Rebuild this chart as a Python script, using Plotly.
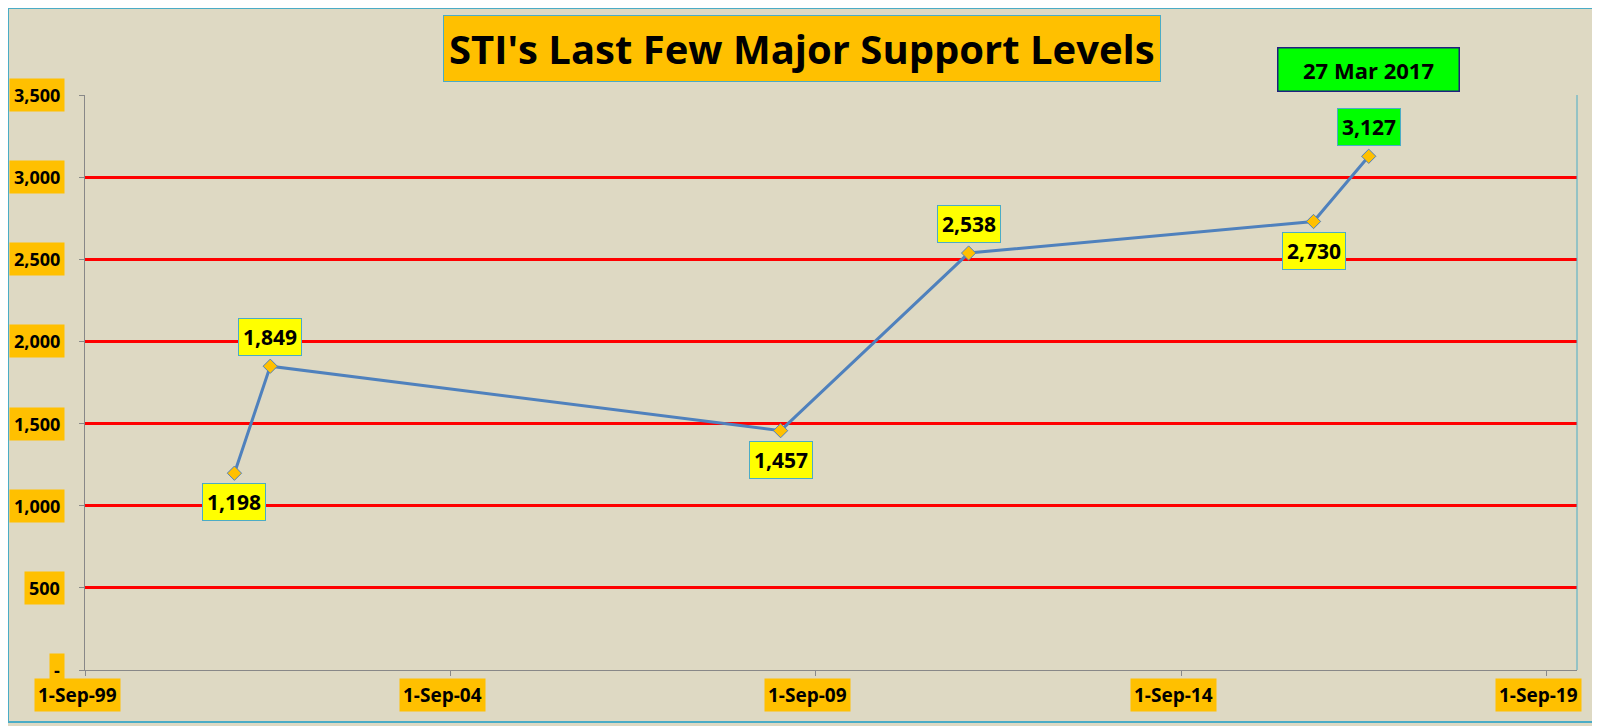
import plotly.graph_objects as go

dates = ["2001-09-17", "2002-03-15", "2009-03-09", "2011-10-05", "2016-06-24", "2017-03-27"]
values = [1198, 1849, 1457, 2538, 2730, 3127]
label_pos = ["below", "above", "below", "above", "below", "above"]
y_ticks = [0, 500, 1000, 1500, 2000, 2500, 3000, 3500]
y_tick_text = ["-", "500", "1,000", "1,500", "2,000", "2,500", "3,000", "3,500"]
x_ticks = ["1999-09-01", "2004-09-01", "2009-09-01", "2014-09-01", "2019-09-01"]
x_tick_text = ["1-Sep-99", "1-Sep-04", "1-Sep-09", "1-Sep-14", "1-Sep-19"]

FONT = "Open Sans"
BG = "#DED9C3"
L, R, T, B = 77, 31, 87, 64
PW, PH = 1600 - L - R, 726 - T - B

def px(x):
    return (x - L) / PW

def py(y):
    return (726 - B - y) / PH

fig = go.Figure()
fig.add_trace(go.Scatter(
    x=dates, y=values, mode="lines+markers",
    line=dict(color="#4F81BD", width=3),
    marker=dict(symbol="diamond", size=11, color="#FFC000", line=dict(color="#4F81BD", width=1)),
    showlegend=False, hoverinfo="skip"))

ann = []
for d, v, p in zip(dates, values, label_pos):
    last = (v == values[-1])
    ann.append(dict(x=d, y=v, xref="x", yref="y", text=f"<b>{v:,}</b>", showarrow=False,
                    yshift=29 if p == "above" else -29,
                    font=dict(family=FONT, size=21, color="black"),
                    bgcolor="#00FF00" if last else "#FFFF00",
                    bordercolor="#4BACC6", borderwidth=1, borderpad=4))
ann.append(dict(x=dates[-1], y=1, xref="x", yref="paper", yanchor="bottom", yshift=3,
                text="<b>27 Mar 2017</b>", showarrow=False,
                font=dict(family=FONT, size=22, color="black"),
                bgcolor="#00FF00", bordercolor="#1F1F7F", borderwidth=1.5, borderpad=6, width=168))
for v, t in zip(y_ticks, y_tick_text):
    ann.append(dict(x=0, y=v, xref="paper", yref="y", xanchor="right", xshift=-20,
                    text=f"<b>{t}</b>", showarrow=False,
                    font=dict(family=FONT, size=18, color="black"), bgcolor="#FFC000", borderpad=4))
for d, t in zip(x_ticks, x_tick_text):
    ann.append(dict(x=d, y=0, xref="x", yref="paper", yanchor="top", yshift=-8, xshift=-8,
                    text=f"<b>{t}</b>", showarrow=False,
                    font=dict(family=FONT, size=19, color="black"), bgcolor="#FFC000", borderpad=3))
ann.append(dict(x=px(794), y=py(40), xref="paper", yref="paper", xanchor="center", yanchor="middle",
                text="<b>STI's Last Few Major Support Levels</b>",
                showarrow=False, font=dict(family=FONT, size=40, color="black"),
                bgcolor="#FFC000", bordercolor="#4BACC6", borderwidth=1, borderpad=5))

fig.update_layout(
    width=1600, height=726,
    margin=dict(l=L, r=R, t=T, b=B),
    paper_bgcolor=BG, plot_bgcolor=BG,
    xaxis=dict(type="date", range=["1999-09-01", "2020-02-01"], tickvals=x_ticks,
               showticklabels=False, ticks="outside", ticklen=5, tickcolor="#888",
               showgrid=False, showline=True, linecolor="#888", zeroline=False),
    yaxis=dict(range=[0, 3500], tickvals=y_ticks, showticklabels=False, ticks="outside",
               ticklen=5, tickcolor="#888", showgrid=True, gridcolor="#FF0000", gridwidth=2.5,
               showline=True, linecolor="#888", zeroline=False),
    annotations=ann,
    shapes=[dict(type="line", xref="paper", yref="paper", x0=1, x1=1, y0=0, y1=1,
                 line=dict(color="#4BACC6", width=1)),
            dict(type="rect", xref="paper", yref="paper",
                 x0=px(0), x1=px(1590), y0=py(714), y1=py(0),
                 line=dict(color="#4BACC6", width=2))],
)
fig.write_html("out.html")
